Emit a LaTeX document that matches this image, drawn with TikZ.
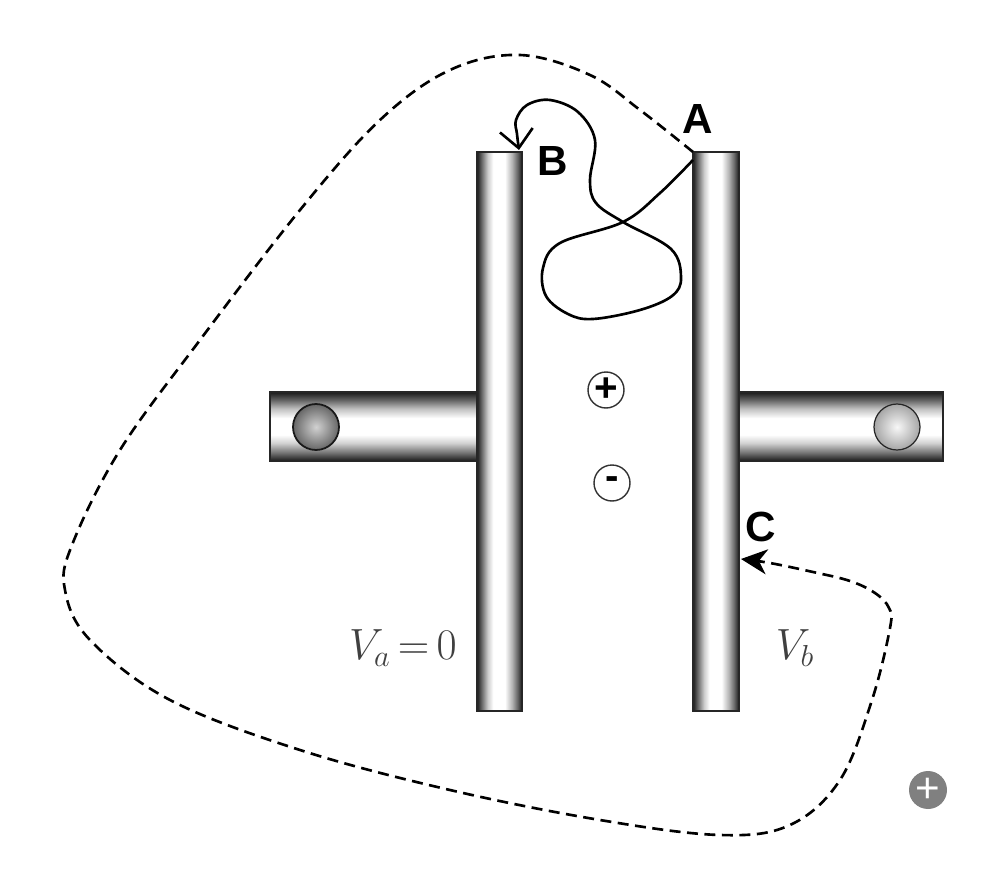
\documentclass[tikz,border=0pt]{standalone}
\usepackage{fontspec}
\setsansfont{Liberation Sans}
\usetikzlibrary{arrows.meta}
\pgfdeclarehorizontalshading{rodshade}{100bp}{color(0bp)=(black!90); color(25bp)=(black!90); color(30bp)=(black!60); color(37bp)=(black!20); color(43bp)=(white); color(56bp)=(white); color(64bp)=(black!30); color(70bp)=(black!60); color(75bp)=(black!90); color(100bp)=(black!90)}
\pgfdeclareverticalshading{barshade}{100bp}{color(0bp)=(black!90); color(25bp)=(black!90); color(31bp)=(black!55); color(38bp)=(black!18); color(44bp)=(white); color(56bp)=(white); color(63bp)=(black!25); color(69bp)=(black!60); color(75bp)=(black!90); color(100bp)=(black!90)}
\tikzset{
  rodv/.style={shading=rodshade,draw=black!85,line width=0.7pt},
  barh/.style={shading=barshade,draw=black!85,line width=0.7pt},
  lbl/.style={font=\sffamily\bfseries\fontsize{24}{24}\selectfont,inner sep=0pt},
  volt/.style={text=black!75,inner sep=0pt,font=\fontsize{24}{24}\selectfont},
  charge/.style={circle,draw=black!80,line width=0.8pt,minimum size=0.72cm,inner sep=0pt,font=\sffamily\bfseries\fontsize{23}{23}\selectfont},
  pathdash/.style={line width=1.5pt,dash pattern=on 0.22cm off 0.13cm},
}
\begin{document}
\begin{tikzpicture}[x=0.02cm,y=-0.02cm]
      \useasboundingbox (0,0) rectangle (981,882);
      % Horizontal tubes
      \draw[barh] (270,392) rectangle (477,461);
      \draw[barh] (739,392) rectangle (943,461);
      % Plates
      \draw[rodv] (477,152) rectangle (522,711);
      \draw[rodv] (693,152) rectangle (739,711);
      % Balls in the tubes
      \draw[black!90,line width=1pt,inner color=black!18,outer color=black!60] (316,427) circle (23);
      \draw[black!85,line width=0.7pt,inner color=black!3,outer color=black!35] (897,427) circle (23);
      % Charges
      \node[charge] (plus) at (606,390) {+};
      \node[charge] (minus) at (612,483) {-};
      % Labels
      \node[lbl] (labA) at (698,119) {A};
      \node[lbl] (labB) at (553,161) {B};
      \node[lbl] (labC) at (761,527) {C};
      \node[volt] (va) at (403,648) {$V_a\mskip-2mu=\mskip-2mu0$};
      \node[volt] (vb) at (795,648) {$V_b$};
      % End points
      \coordinate (ptA) at (693,160);
      \coordinate (ptAtop) at (693,152);
      \coordinate (ptB) at (519,150);
      \coordinate (ptC) at (741,559);
      % Wiggly path A to B
      \draw[line width=1.5pt,-{Straight Barb[length=0.36cm,width=0.66cm]}] plot[smooth,tension=0.6] coordinates {(ptA) (660,193) (623,222) (560,243) (543,268) (546,296) (568,314) (593,319) (640,310) (672,296) (681,278) (671,249) (623,222) (596,203) (590,180) (595,140) (578,112) (550,100) (527,105) (516,120) (517,134) (ptB)};
      % Dashed path A to C
      \draw[pathdash,-{Stealth[length=0.52cm,width=0.5cm,inset=0.16cm]}] plot[smooth,tension=0.6] coordinates {(ptAtop) (640,110) (590,75) (520,55) (450,70) (380,120) (300,210) (200,340) (120,450) (72,545) (65,590) (90,640) (170,700) (300,750) (450,790) (600,820) (720,835) (790,825) (840,780) (872,700) (890,628) (889,608) (875,593) (850,581) (813,572) (770,563) (ptC)};
      % Round button
      \node[circle,fill=black!50,text=white,minimum size=0.76cm,inner sep=0pt,font=\sffamily\fontsize{24}{24}\selectfont] (zoombtn) at (928,790) {+};
\end{tikzpicture}
\end{document}
